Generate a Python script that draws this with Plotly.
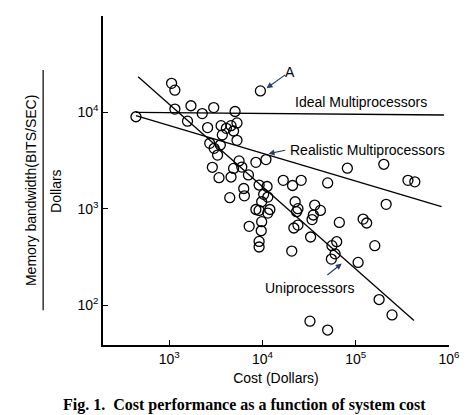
import plotly.graph_objects as go

# scatter data (cost in dollars, bandwidth in bits/sec per dollar)
cost = [440, 1060, 1150, 1150, 1570, 1710, 2260, 2580, 3000, 2720, 2900, 3030, 3300, 3600,
        3710, 3420, 3530, 4100, 4600, 4900, 5330, 5080, 5330, 4460, 4600, 4900, 5610, 6000,
        6300, 6400, 7070, 7200, 8500, 8500, 9200, 9200, 9500, 9200, 9200, 9800, 9700, 9800,
        10300, 10900, 11200, 11400, 11400, 12000, 16700, 20600, 21000, 21700, 22400, 23200,
        24000, 24000, 26000, 32800, 32300, 34000, 35100, 36300, 41800, 50000, 50000, 54800,
        55600, 60000, 62500, 66700, 81300, 106000, 120000, 131000, 160000, 178000, 200000,
        212000, 245000, 363000, 430000]
bandwidth = [9000, 20000, 17000, 10800, 8100, 11700, 9700, 6950, 11200, 4770, 2690, 4230,
             3600, 7270, 5830, 2100, 4580, 6820, 7270, 6400, 7760, 10200, 5120, 1300, 2130,
             2620, 3130, 2700, 1620, 1360, 2240, 656, 3030, 980, 1760, 960, 16700, 457, 400,
             733, 590, 1180, 1410, 3230, 1700, 900, 1320, 980, 1970, 363, 1740, 630, 1180,
             930, 1000, 675, 1970, 508, 68, 770, 860, 1090, 960, 1850, 55, 300, 413, 340,
             454, 720, 2630, 277, 780, 710, 413, 114, 2890, 1110, 79, 1970, 1900]

# fitted lines (end points)
ideal_x = [440, 883000]
ideal_y = [10000, 9380]
real_x = [440, 832000]
real_y = [9230, 1050]
uni_x = [464, 421000]
uni_y = [23400, 69]

x_ticks = [1e3, 1e4, 1e5, 1e6]
x_labels = ["10<sup>3</sup>", "10<sup>4</sup>", "10<sup>5</sup>", "10<sup>6</sup>"]
y_ticks = [1e2, 1e3, 1e4, 1e5]
y_labels = ["10<sup>2</sup>", "10<sup>3</sup>", "10<sup>4</sup>", "10<sup>5</sup>"]

fnt = dict(family="Liberation Sans, Arial", size=14, color="black")

fig = go.Figure()
for xs, ys in [(ideal_x, ideal_y), (real_x, real_y), (uni_x, uni_y)]:
    fig.add_trace(go.Scatter(x=xs, y=ys, mode="lines",
                             line=dict(color="black", width=1.3), showlegend=False))
fig.add_trace(go.Scatter(x=cost, y=bandwidth, mode="markers", showlegend=False,
                         marker=dict(symbol="circle-open", size=10,
                                     color="black", line=dict(width=1.3))))

fig.add_annotation(x=4.0, y=4.22, xref="x", yref="y", text="", showarrow=True,
                   ax=4.26, ay=4.40, axref="x", ayref="y", arrowhead=2, arrowsize=1,
                   arrowwidth=1.2, standoff=5)
fig.add_annotation(x=4.29, y=4.42, text="A", showarrow=False, font=fnt)
fig.add_annotation(x=5.06, y=4.11, text="Ideal Multiprocessors", showarrow=False, font=fnt)
fig.add_annotation(x=4.065, y=3.57, text="", showarrow=True, ax=4.26, ay=3.61,
                   axref="x", ayref="y", arrowhead=2, arrowwidth=1.2)
fig.add_annotation(x=4.27, y=3.61, text="Realistic Multiprocessors", showarrow=False,
                   xanchor="left", font=fnt)
fig.add_annotation(x=4.85, y=2.43, text="", showarrow=True, ax=4.68, ay=2.30,
                   axref="x", ayref="y", arrowhead=2, arrowwidth=1.2)
fig.add_annotation(x=4.5, y=2.18, text="Uniprocessors", showarrow=False, font=fnt)

# y axis title (two lines with a fraction bar)
fig.add_annotation(xref="paper", yref="paper", x=-0.208, y=0.468, text="Memory bandwidth(BITS/SEC)",
                   textangle=-90, showarrow=False, font=fnt, xanchor="center", yanchor="middle")
fig.add_annotation(xref="paper", yref="paper", x=-0.136, y=0.468, text="Dollars",
                   textangle=-90, showarrow=False, font=fnt, xanchor="center", yanchor="middle")
fig.add_shape(type="line", xref="paper", yref="paper", x0=-0.173, x1=-0.173, y0=0.106, y1=0.836,
              line=dict(color="black", width=1.2))
fig.add_annotation(xref="paper", yref="paper", x=0.41, y=-0.215,
                   text="<b>Fig. 1.  Cost performance as a function of system cost</b>", showarrow=False,
                   font=dict(family="Liberation Serif, Times New Roman", size=16, color="black"))

fig.update_xaxes(type="log", range=[2.29, 6.0], tickvals=x_ticks, ticktext=x_labels,
                 showline=True, linecolor="black", linewidth=1.5, showgrid=False, zeroline=False,
                 ticks="inside", ticklen=5, tickcolor="black", tickfont=fnt,
                 title=dict(text="Cost (Dollars)", font=fnt, standoff=8))
fig.update_yaxes(type="log", range=[1.585, 5.0], tickvals=y_ticks, ticktext=y_labels,
                 showline=True, linecolor="black", linewidth=1.5, showgrid=False, zeroline=False,
                 ticks="inside", ticklen=5, tickcolor="black", tickfont=fnt)
fig.update_layout(width=474, height=415, margin=dict(l=95, r=33, t=8, b=78),
                  plot_bgcolor="white", paper_bgcolor="white", font=fnt)

fig.write_html("out.html")
